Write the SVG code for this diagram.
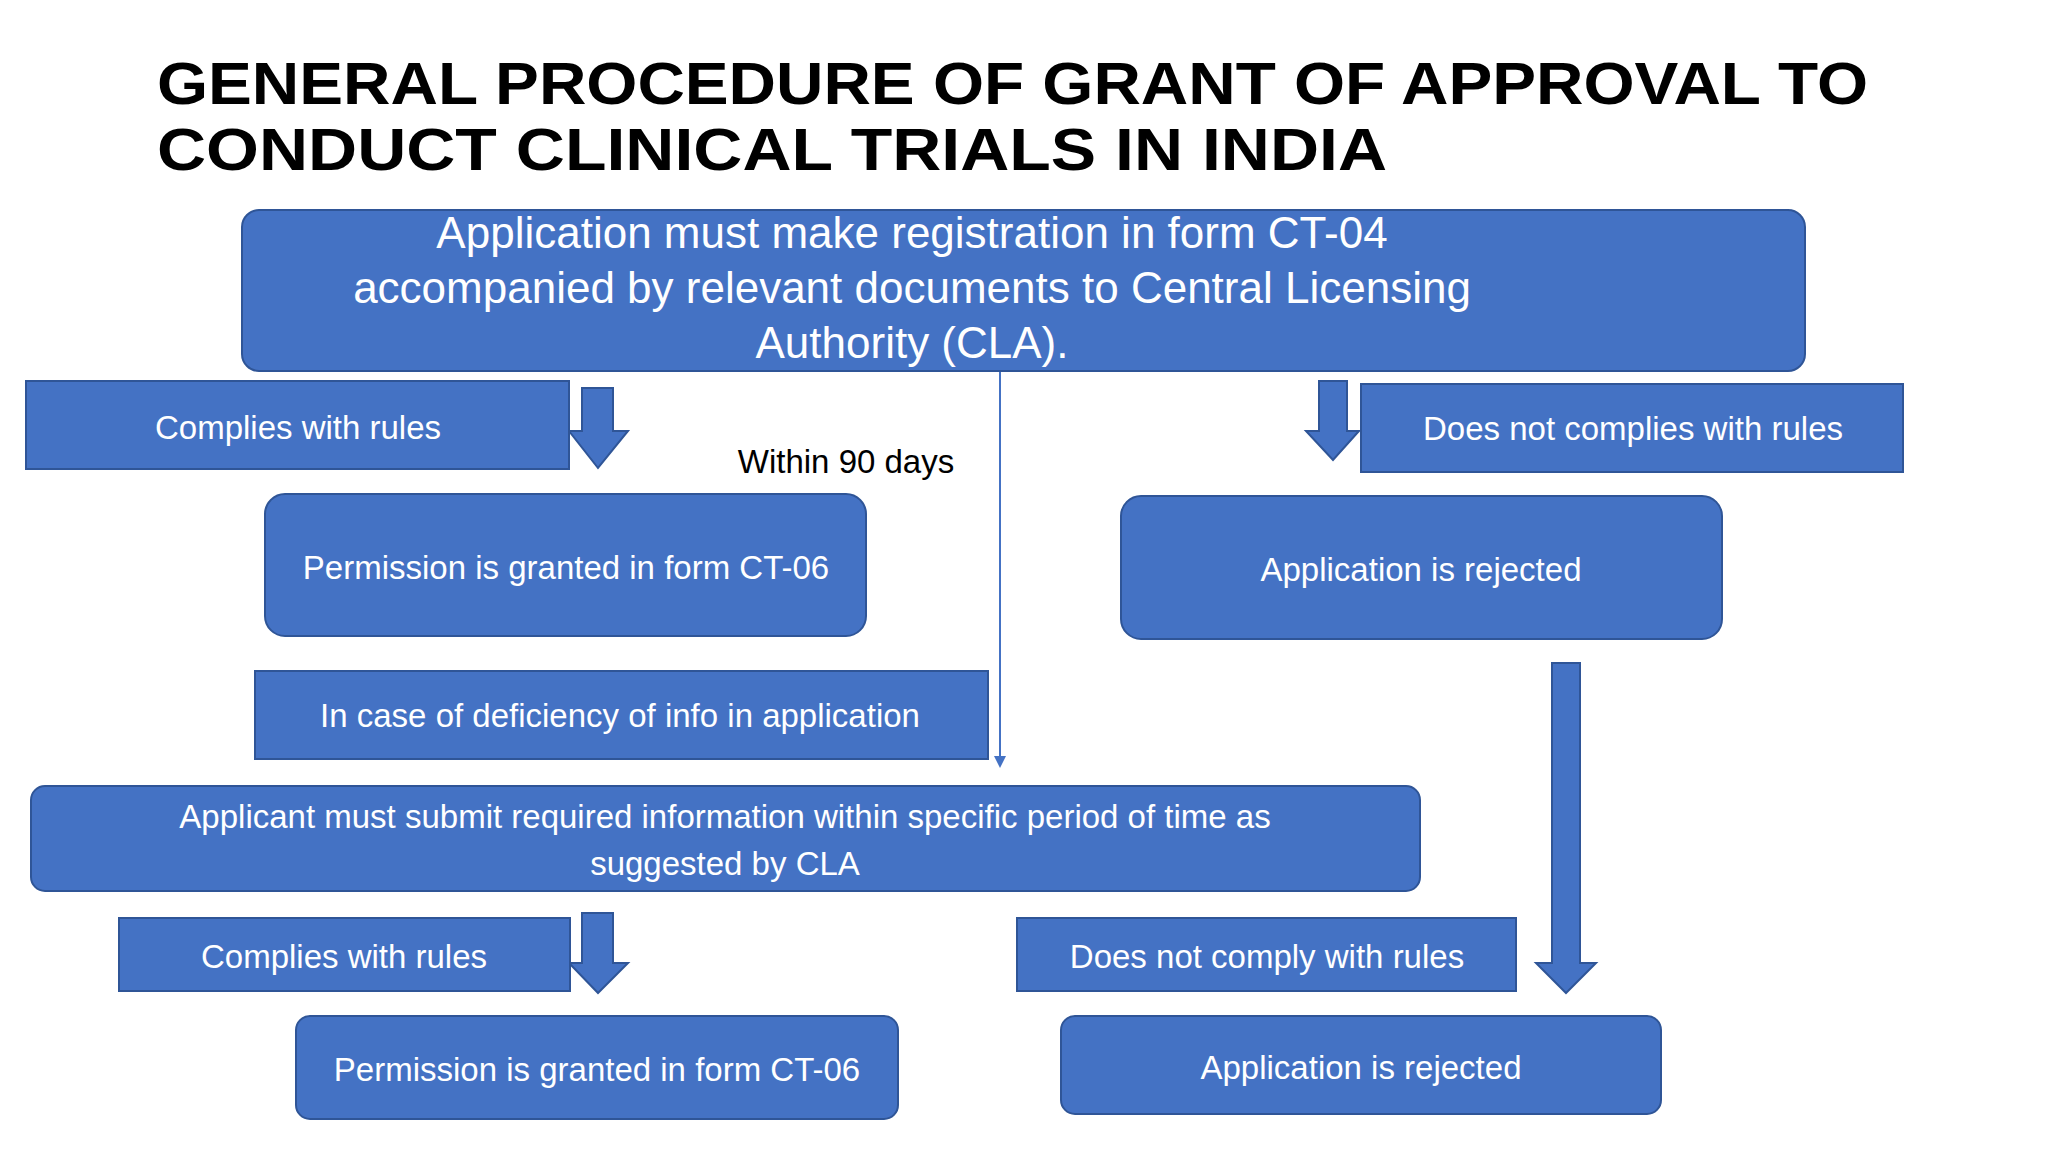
<svg xmlns="http://www.w3.org/2000/svg" width="2048" height="1152" viewBox="0 0 2048 1152">
<style>
.b{fill:#4472C4;stroke:#2F5597;stroke-width:2}
.t{fill:#fff;font-family:"Liberation Sans",Arial,sans-serif;font-size:33px;text-anchor:middle}
.big{font-size:44px}
.ttl{font-family:"Liberation Sans",Arial,sans-serif;font-weight:900;font-size:60px;fill:#000}
</style>
<defs><marker id="m" markerWidth="12" markerHeight="12" refX="6" refY="10" orient="0" markerUnits="userSpaceOnUse"><path d="M0,0 L12,0 L6,12 Z" fill="#4472C4"/></marker></defs>
<rect width="2048" height="1152" fill="#fff"/>
<text class="ttl" x="157" y="104" textLength="1711" lengthAdjust="spacingAndGlyphs">GENERAL PROCEDURE OF GRANT OF APPROVAL TO</text>
<text class="ttl" x="157" y="170" textLength="1230" lengthAdjust="spacingAndGlyphs">CONDUCT CLINICAL TRIALS IN INDIA</text>
<g id="connectors">
<line x1="1000" y1="371" x2="1000" y2="766" stroke="#4472C4" stroke-width="2" marker-end="url(#m)"/>
<path class="b" d="M582,388 H613 V431 H628 L598,468 L569,431 H582 Z"/>
<path class="b" d="M1319,381 H1347 V431 H1359 L1333,460 L1306,431 H1319 Z"/>
<path class="b" d="M1552,663 H1580 V963 H1596 L1566,993 L1536,963 H1552 Z"/>
<path class="b" d="M582,913 H613 V963 H628 L598,993 L569,963 H582 Z"/>
<text x="846" y="473" font-family="Liberation Sans,Arial,sans-serif" font-size="33" text-anchor="middle" fill="#000">Within 90 days</text>
</g>
<g id="n1"><rect class="b" x="242" y="210" width="1563" height="161" rx="17"/>
<text class="t big" x="912" y="248">Application must make registration in form CT-04</text>
<text class="t big" x="912" y="303">accompanied by relevant documents to Central Licensing</text>
<text class="t big" x="912" y="358">Authority (CLA).</text></g>
<g id="n2"><rect class="b" x="26" y="381" width="543" height="88"/><text class="t" x="298" y="439">Complies with rules</text></g>
<g id="n3"><rect class="b" x="1361" y="384" width="542" height="88"/><text class="t" x="1633" y="440">Does not complies with rules</text></g>
<g id="n4"><rect class="b" x="265" y="494" width="601" height="142" rx="20"/><text class="t" x="566" y="579">Permission is granted in form CT-06</text></g>
<g id="n5"><rect class="b" x="1121" y="496" width="601" height="143" rx="20"/><text class="t" x="1421" y="581">Application is rejected</text></g>
<g id="n6"><rect class="b" x="255" y="671" width="733" height="88"/><text class="t" x="620" y="727">In case of deficiency of info in application</text></g>
<g id="n7"><rect class="b" x="31" y="786" width="1389" height="105" rx="14"/>
<text class="t" x="725" y="828">Applicant must submit required information within specific period of time as</text>
<text class="t" x="725" y="875">suggested by CLA</text></g>
<g id="n8"><rect class="b" x="119" y="918" width="451" height="73"/><text class="t" x="344" y="968">Complies with rules</text></g>
<g id="n9"><rect class="b" x="1017" y="918" width="499" height="73"/><text class="t" x="1267" y="968">Does not comply with rules</text></g>
<g id="n10"><rect class="b" x="296" y="1016" width="602" height="103" rx="14"/><text class="t" x="597" y="1081">Permission is granted in form CT-06</text></g>
<g id="n11"><rect class="b" x="1061" y="1016" width="600" height="98" rx="14"/><text class="t" x="1361" y="1079">Application is rejected</text></g>
</svg>
